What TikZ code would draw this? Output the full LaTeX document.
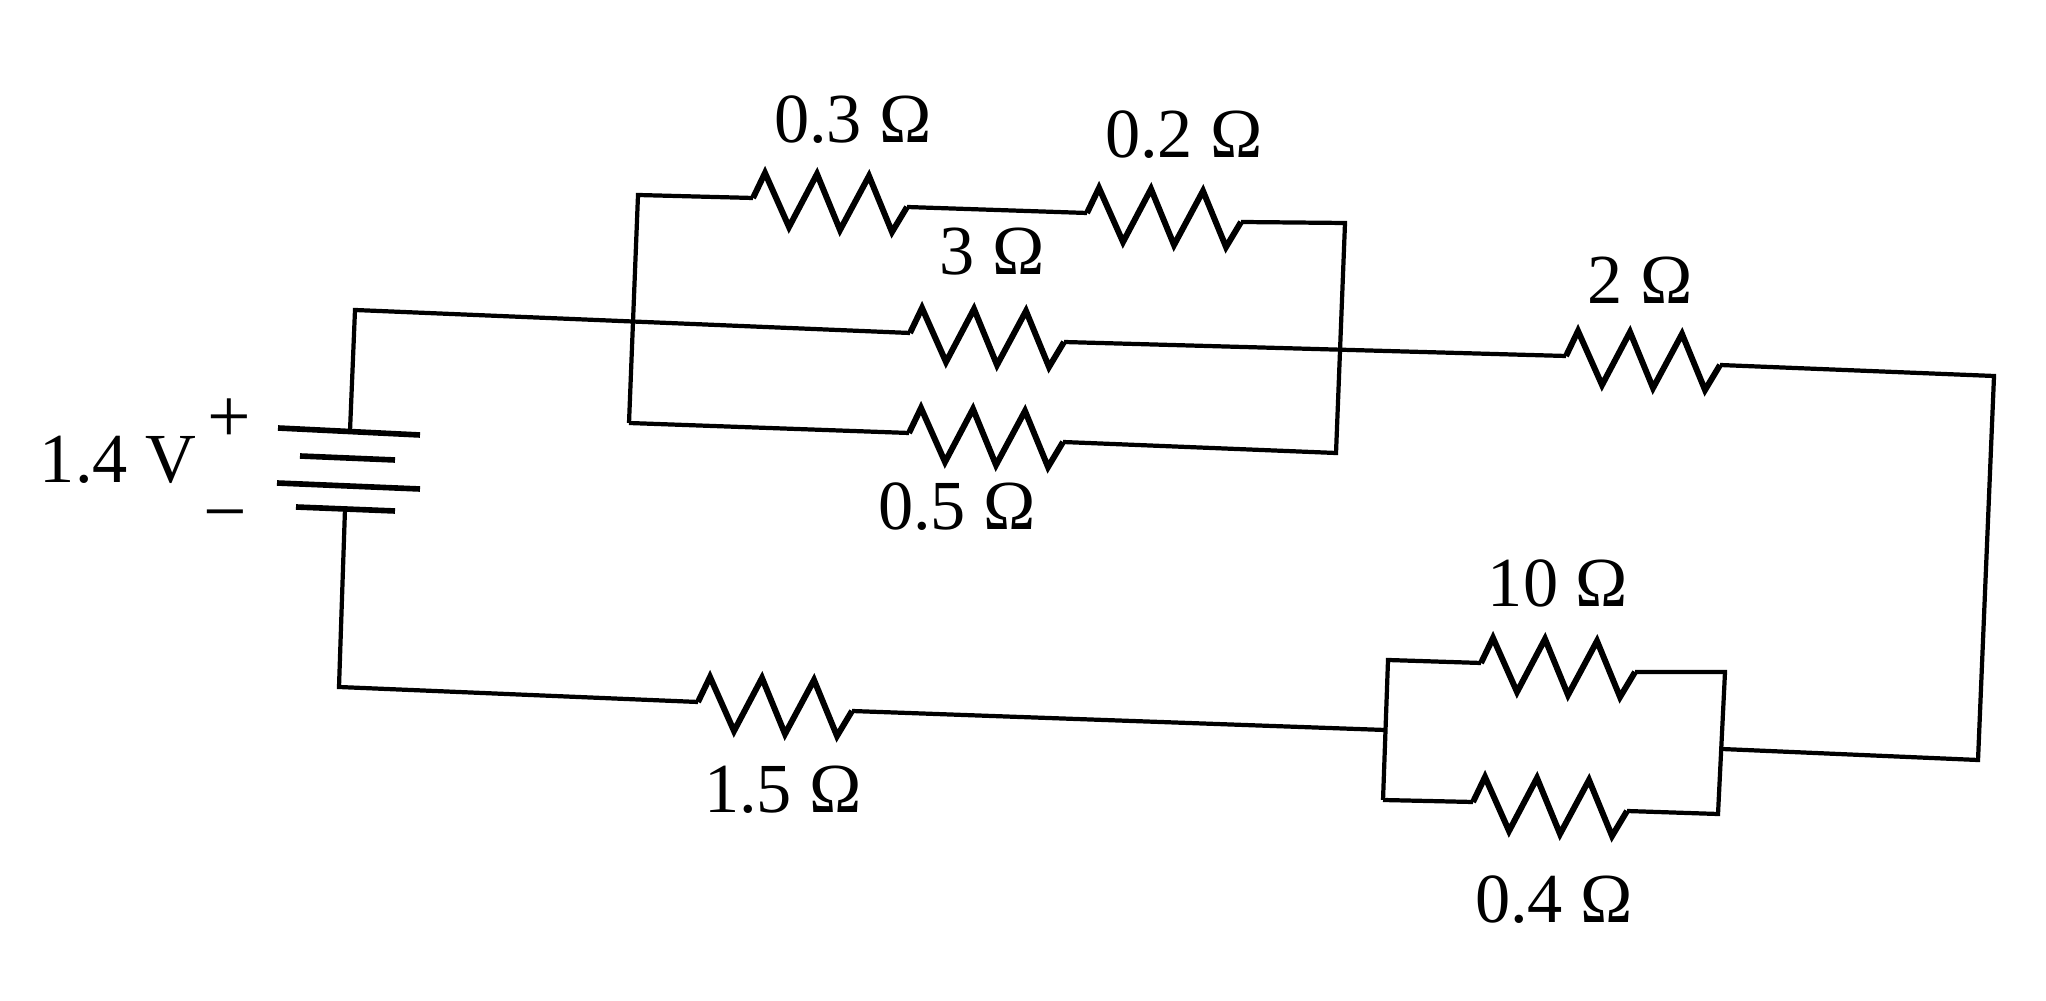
\documentclass[tikz,border=0pt]{standalone}
\usepackage{fontspec}
\setmainfont{Liberation Serif}

\begin{document}
\begin{tikzpicture}[x=0.01cm,y=-0.01cm,
        wire/.style={line width=1.2pt},
        plate/.style={line width=1.6pt},
        pics/zigzag/.style={code={
            \coordinate (-in) at (0,0);
            \coordinate (-out) at (154,9);
            \draw [line width=1.7pt] (-in) -- (12,-25) -- (36,29) -- (64,-24) -- (87,32) -- (116,-22) -- (139,34) -- (-out);
        }}]

    \useasboundingbox (0,0) rectangle (2046,1001);

        % resistors
        \pic (r1) at (753,198) {zigzag};
        \pic (r2) at (1087,213) {zigzag};
        \pic (r3) at (910,333) {zigzag};
        \pic (r4) at (1566,356) {zigzag};
        \pic (r5) at (909,433) {zigzag};
        \pic (r6) at (698,702) {zigzag};
        \pic (r7) at (1481,663) {zigzag};
        \pic (r8) at (1473,802) {zigzag};

        % battery
        \coordinate (b1l) at (278,428);
        \coordinate (b1r) at (420,435);
        \coordinate (b2l) at (300,456);
        \coordinate (b2r) at (395,460);
        \coordinate (b3l) at (277,483);
        \coordinate (b3r) at (420,489);
        \coordinate (b4l) at (296,507);
        \coordinate (b4r) at (395,511);
        \coordinate (bt) at (350,431);
        \coordinate (bb) at (345,509);
        \draw [plate] (b1l) -- (b1r);
        \draw [plate] (b2l) -- (b2r);
        \draw [plate] (b3l) -- (b3r);
        \draw [plate] (b4l) -- (b4r);

        % corners
        \coordinate (c1) at (355,310);
        \coordinate (c2) at (339,687);
        \coordinate (c3) at (1994,376);
        \coordinate (c4) at (1978,760);
        \coordinate (u1) at (638,195);
        \coordinate (u2) at (1345,223);
        \coordinate (u3) at (1336,453);
        \coordinate (u4) at (629,423);
        \coordinate (v1) at (1388,660);
        \coordinate (v2) at (1725,672);
        \coordinate (v3) at (1718,814);
        \coordinate (v4) at (1383,800);
        \coordinate (j1) at (1385,730);
        \coordinate (j2) at (1722,749);

        \begin{scope}[every path/.style={wire}]
            \draw (bt) -- (c1) -- (r3-in);
            \draw (r3-out) -- (r4-in);
            \draw (r4-out) -- (c3) -- (c4) -- (j2);
            \draw (bb) -- (c2) -- (r6-in);
            \draw (r6-out) -- (j1);

            \draw (u4) -- (u1) -- (r1-in);
            \draw (r1-out) -- (r2-in);
            \draw (r2-out) -- (u2) -- (u3) -- (r5-out);
            \draw (r5-in) -- (u4);

            \draw (v4) -- (v1) -- (r7-in);
            \draw (r7-out) -- (v2) -- (v3) -- (r8-out);
            \draw (r8-in) -- (v4);
        \end{scope}

        \begin{scope}[every node/.style={anchor=base,inner sep=0pt,font=\fontsize{20}{24}\selectfont}]
            \node (l1) at (853,143) {0.3 Ω};
            \node (l2) at (1184,158) {0.2 Ω};
            \node (l3) at (992,275) {3 Ω};
            \node (l4) at (1640,304) {2 Ω};
            \node (l5) at (957,530) {0.5 Ω};
            \node (l6) at (1558,607) {10 Ω};
            \node (l7) at (783,813) {1.5 Ω};
            \node (l8) at (1554,922) {0.4 Ω};
            \node (volt) at (118,483) {1.4 V};
        \end{scope}

        \begin{scope}[every node/.style={inner sep=0pt,font=\fontsize{22}{24}\selectfont}]
            \node (plus) at (229,421) {+};
            \node (minus) at (225,524) {−};
        \end{scope}

    \end{tikzpicture}
\end{document}
